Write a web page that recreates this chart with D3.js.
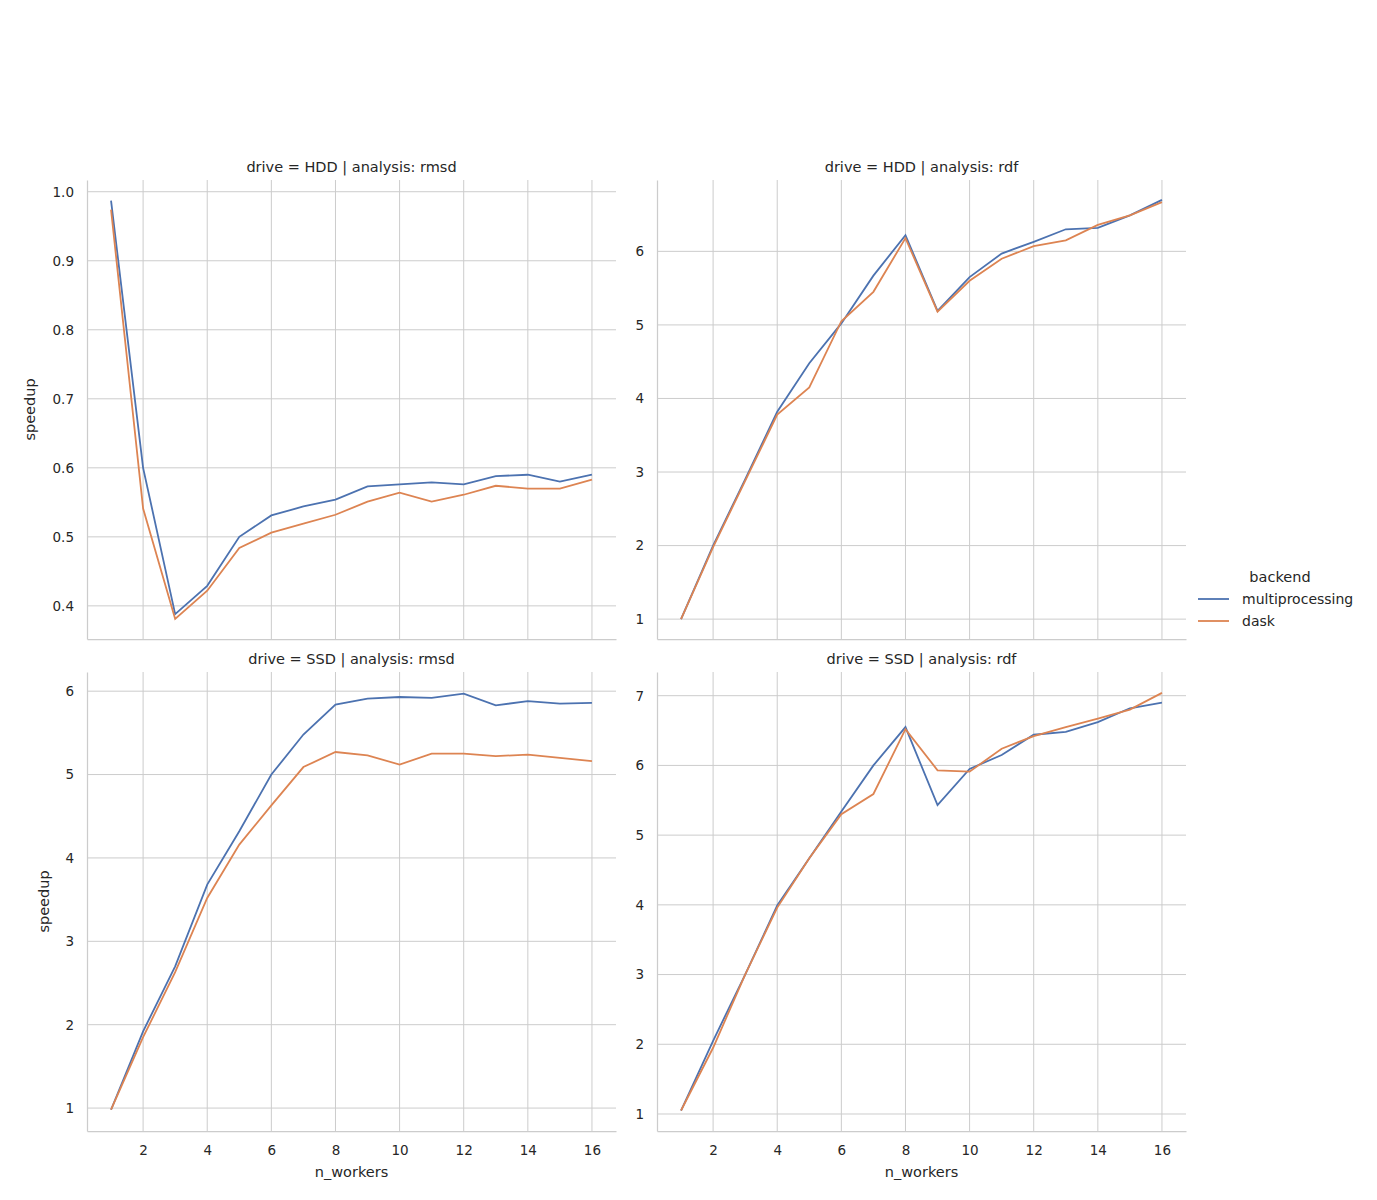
<!DOCTYPE html>
<html><head><meta charset="utf-8">
<script src="https://cdn.jsdelivr.net/npm/d3@7"></script>
<style>body{margin:0;background:#fff}text{font-family:"DejaVu Sans",sans-serif;fill:#262626}</style>
</head><body><svg id="c" width="1377" height="1200"></svg>
<script>
const workers=[1,2,3,4,5,6,7,8,9,10,11,12,13,14,15,16];
const hddRmsdMulti=[0.987,0.60,0.388,0.429,0.50,0.531,0.544,0.554,0.573,0.576,0.579,0.576,0.588,0.590,0.580,0.590];
const hddRmsdDask=[0.974,0.541,0.381,0.422,0.484,0.506,0.519,0.532,0.551,0.564,0.551,0.561,0.574,0.570,0.570,0.583];
const hddRdfMulti=[1,2,2.9,3.82,4.48,5.02,5.67,6.22,5.19,5.65,5.97,6.13,6.3,6.32,6.49,6.7];
const hddRdfDask=[1,1.98,2.88,3.78,4.15,5.05,5.45,6.18,5.18,5.6,5.9,6.07,6.15,6.36,6.49,6.67];
const ssdRmsdMulti=[0.98,1.92,2.7,3.68,4.32,5.0,5.48,5.84,5.91,5.93,5.92,5.97,5.83,5.88,5.85,5.86];
const ssdRmsdDask=[0.98,1.85,2.63,3.52,4.16,4.63,5.09,5.27,5.23,5.12,5.25,5.25,5.22,5.24,5.2,5.16];
const ssdRdfMulti=[1.05,2.05,3.0,3.99,4.67,5.34,6.0,6.55,5.43,5.95,6.15,6.44,6.48,6.62,6.82,6.9];
const ssdRdfDask=[1.05,1.95,3.0,3.96,4.67,5.3,5.59,6.52,5.93,5.91,6.24,6.42,6.55,6.67,6.8,7.04];
const xTicks=[2,4,6,8,10,12,14,16];
const backends=["multiprocessing","dask"];
const colors=["#4c72b0","#dd8452"];
const panels=[
 {title:"drive = HDD | analysis: rmsd",s:[hddRmsdMulti,hddRmsdDask],dom:[0.352,1.017],ticks:[0.4,0.5,0.6,0.7,0.8,0.9,1.0],fmt:d3.format(".1f"),x:87,y:180,ylab:-52,xlab:false},
 {title:"drive = HDD | analysis: rdf",s:[hddRdfMulti,hddRdfDask],dom:[0.73,6.97],ticks:[1,2,3,4,5,6],fmt:d3.format("d"),x:657,y:180,ylab:0,xlab:false},
 {title:"drive = SSD | analysis: rmsd",s:[ssdRmsdMulti,ssdRmsdDask],dom:[0.725,6.23],ticks:[1,2,3,4,5,6],fmt:d3.format("d"),x:87,y:672,ylab:-38,xlab:true},
 {title:"drive = SSD | analysis: rdf",s:[ssdRdfMulti,ssdRdfDask],dom:[0.756,7.34],ticks:[1,2,3,4,5,6,7],fmt:d3.format("d"),x:657,y:672,ylab:0,xlab:true}];
const W=529,H=459;
const svg=d3.select("#c");
panels.forEach(p=>{
 const g=svg.append("g").attr("transform",`translate(${p.x},${p.y})`);
 const x=d3.scaleLinear().domain([0.25,16.75]).range([0,W]);
 const y=d3.scaleLinear().domain(p.dom).range([H,0]);
 g.selectAll(".gx").data(xTicks).join("line").attr("x1",d=>x(d)).attr("x2",d=>x(d)).attr("y1",0).attr("y2",H).attr("stroke","#cccccc");
 g.selectAll(".gy").data(p.ticks).join("line").attr("y1",d=>y(d)).attr("y2",d=>y(d)).attr("x1",0).attr("x2",W).attr("stroke","#cccccc");
 const ya=g.append("g").call(d3.axisLeft(y).tickValues(p.ticks).tickFormat(p.fmt).tickSize(0).tickPadding(13));
 ya.select(".domain").attr("stroke","#cccccc").attr("stroke-width",1.25);
 ya.selectAll("text").attr("font-size",13.5).style("fill","#262626");
 const xa=g.append("g").attr("transform",`translate(0,${H})`).call(d3.axisBottom(x).tickValues(xTicks).tickFormat(p.xlab?d3.format("d"):"").tickSize(0).tickPadding(14));
 xa.select(".domain").attr("stroke","#cccccc").attr("stroke-width",1.25);
 xa.selectAll("text").attr("font-size",13.5).style("fill","#262626");
 const line=d3.line().x((d,i)=>x(workers[i])).y(d=>y(d));
 p.s.forEach((s,k)=>g.append("path").datum(s).attr("d",line).attr("fill","none").attr("stroke",colors[k]).attr("stroke-width",1.8));
 g.append("text").attr("x",W/2).attr("y",-8).attr("text-anchor","middle").attr("font-size",14.5).text(p.title);
 if(p.ylab) g.append("text").attr("transform",`translate(${p.ylab},${H/2}) rotate(-90)`).attr("text-anchor","middle").attr("font-size",14.5).text("speedup");
 if(p.xlab) g.append("text").attr("x",W/2).attr("y",H+46).attr("text-anchor","middle").attr("font-size",14.5).text("n_workers");
});
const lg=svg.append("g").attr("transform","translate(1198,582)");
lg.append("text").attr("x",82).attr("y",0).attr("text-anchor","middle").attr("font-size",14.5).text("backend");
backends.forEach((b,i)=>{
 lg.append("line").attr("x1",0).attr("x2",31).attr("y1",17+i*22).attr("y2",17+i*22).attr("stroke",colors[i]).attr("stroke-width",1.8);
 lg.append("text").attr("x",44).attr("y",22+i*22).attr("font-size",14).text(b);
});
</script></body></html>
